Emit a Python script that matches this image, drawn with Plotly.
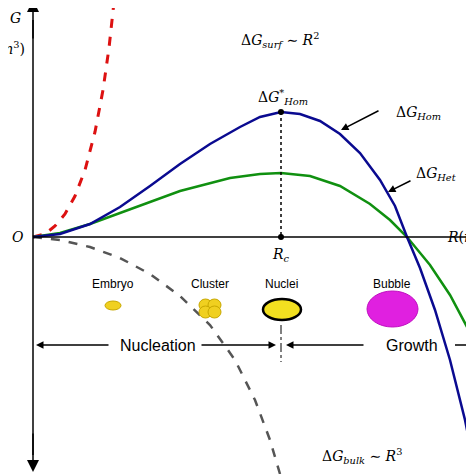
import plotly.graph_objects as go

# sampled curves, read in picture units (x right, y down; origin O at 33,237)
blue_x = [33, 60, 90, 120, 150, 180, 210, 240, 260, 281, 300, 320, 340, 360, 380, 395, 407, 420, 435, 450, 465, 474]
blue_y = [237, 234, 224, 207, 186, 164, 144, 127, 117, 112, 114, 121, 134, 153, 180, 206, 237, 268, 310, 360, 420, 465]
green_x = [33, 60, 90, 130, 180, 230, 260, 281, 310, 340, 370, 390, 407, 430, 450, 474]
green_y = [237, 233, 224, 209, 191, 178, 174, 173, 176, 186, 204, 220, 237, 265, 295, 340]
red_x = [33, 45, 55, 65, 75, 85, 95, 103, 109, 114]
red_y = [237, 234, 226, 214, 196, 170, 132, 90, 48, 2]
gray_x = [33, 60, 90, 120, 150, 180, 210, 235, 255, 270, 280]
gray_y = [237, 240, 247, 258, 274, 296, 325, 360, 400, 440, 474]

stage_names = ["Embryo", "Cluster", "Nuclei", "Bubble"]
stage_x = [113, 210, 281, 392]

fig = go.Figure()
fig.add_trace(go.Scatter(x=gray_x, y=gray_y, mode="lines", line=dict(color="#555555", width=2.5, dash="dash")))
fig.add_trace(go.Scatter(x=red_x, y=red_y, mode="lines", line=dict(color="#dd1111", width=3, dash="dash")))
fig.add_trace(go.Scatter(x=green_x, y=green_y, mode="lines", line=dict(color="#109010", width=2.5)))
fig.add_trace(go.Scatter(x=blue_x, y=blue_y, mode="lines", line=dict(color="#0a0a90", width=2.5)))
fig.add_trace(go.Scatter(x=[281, 281], y=[112, 237], mode="markers", marker=dict(color="black", size=6)))

shapes = [
    dict(type="line", x0=33, y0=20, x1=33, y1=455, line=dict(color="black", width=1.5)),
    dict(type="line", x0=33, y0=237, x1=480, y1=237, line=dict(color="black", width=1.5)),
    dict(type="line", x0=281, y0=112, x1=281, y1=237, line=dict(color="black", width=1.5, dash="dot")),
    dict(type="line", x0=281, y0=325, x1=281, y1=362, line=dict(color="black", width=1, dash="dashdot")),
    dict(type="line", x0=455, y0=345, x1=482, y1=345, line=dict(color="black", width=1.5)),
    # stage objects
    dict(type="circle", x0=105, y0=301, x1=121, y1=310, fillcolor="#f0d020", line=dict(color="#c8a800", width=1)),
    dict(type="circle", x0=199, y0=299, x1=212, y1=311, fillcolor="#f0d020", line=dict(color="#c8a800", width=1)),
    dict(type="circle", x0=208, y0=299, x1=221, y1=311, fillcolor="#f0d020", line=dict(color="#c8a800", width=1)),
    dict(type="circle", x0=199, y0=306, x1=212, y1=318, fillcolor="#f0d020", line=dict(color="#c8a800", width=1)),
    dict(type="circle", x0=208, y0=306, x1=221, y1=318, fillcolor="#f0d020", line=dict(color="#c8a800", width=1)),
    dict(type="circle", x0=263, y0=299, x1=301, y1=320, fillcolor="#f2e020", line=dict(color="black", width=2.5)),
    dict(type="circle", x0=367, y0=291, x1=418, y1=327, fillcolor="#e020e0", line=dict(color="#c010c0", width=1)),
]

ann = [
    dict(x=33, y=0, ax=33, ay=40, text="", arrowhead=2, arrowsize=1.6, arrowwidth=1.5),
    dict(x=33, y=472, ax=33, ay=432, text="", arrowhead=2, arrowsize=1.6, arrowwidth=1.5),
    dict(x=36, y=345, ax=110, ay=345, text="", arrowhead=2, arrowwidth=1.5),
    dict(x=276, y=345, ax=200, ay=345, text="", arrowhead=2, arrowwidth=1.5),
    dict(x=286, y=345, ax=365, ay=345, text="", arrowhead=2, arrowwidth=1.5),
    dict(x=341, y=130, ax=380, ay=110, text="", arrowhead=2, arrowwidth=1.5),
    dict(x=388, y=192, ax=412, ay=180, text="", arrowhead=2, arrowwidth=1.5),
]
for a in ann:
    a.update(xref="x", yref="y", axref="x", ayref="y", showarrow=True, arrowcolor="black")

serif = dict(family="DejaVu Serif", size=14, color="black")
sans = dict(family="Liberation Sans", size=16, color="black")
texts = [
    (15, 18, "<i>G</i>", serif),
    (12, 48, "<i>m</i><sup>3</sup>)", serif),
    (280, 40, "Δ<i>G<sub>surf</sub></i> ∼ <i>R</i><sup>2</sup>", serif),
    (283, 97, "Δ<i>G</i><sup>*</sup><sub><i>Hom</i></sub>", serif),
    (418, 113, "Δ<i>G<sub>Hom</sub></i>", serif),
    (436, 174, "Δ<i>G<sub>Het</sub></i>", serif),
    (18, 237, "<i>O</i>", serif),
    (281, 255, "<i>R<sub>c</sub></i>", serif),
    (462, 237, "<i>R</i>(<i>m</i>", serif),
    (362, 456, "Δ<i>G<sub>bulk</sub></i> ∼ <i>R</i><sup>3</sup>", serif),
    (158, 345, "Nucleation", sans),
    (412, 345, "Growth", sans),
]
for x, y, t, f in texts:
    ann.append(dict(x=x, y=y, xref="x", yref="y", text=t, showarrow=False, font=f))
for name, sx in zip(stage_names, stage_x):
    ann.append(dict(x=sx, y=284, xref="x", yref="y", text=name, showarrow=False,
                    font=dict(family="Liberation Sans", size=12, color="black")))

# page adds an 8px body margin, so shift the ranges to line up with the reference
fig.update_layout(
    width=474, height=474, margin=dict(l=0, r=0, t=0, b=0),
    plot_bgcolor="white", paper_bgcolor="white", showlegend=False,
    shapes=shapes, annotations=ann,
    xaxis=dict(range=[8, 482], visible=False, fixedrange=True),
    yaxis=dict(range=[482, 8], visible=False, fixedrange=True),
)
fig.write_html("out.html")
